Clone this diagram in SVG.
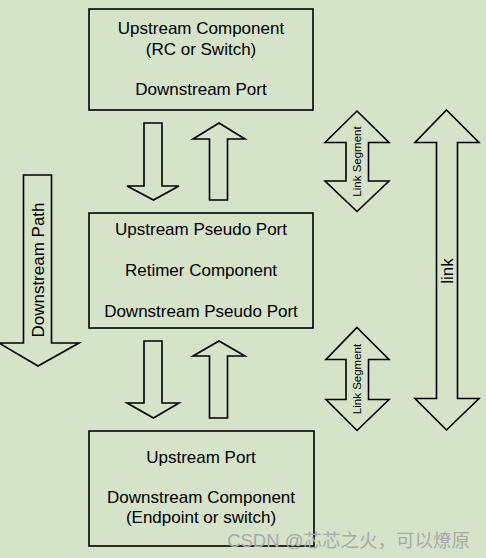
<svg xmlns="http://www.w3.org/2000/svg" width="486" height="558" viewBox="0 0 486 558">
<style>
.bg{fill:#d5e3c9}
.box{fill:#d5e3c9;stroke:#000;stroke-width:1.6}
.arr{fill:#d5e3c9;stroke:#000;stroke-width:1.6;stroke-linejoin:miter}
.t{font-family:"Liberation Sans",Arial,sans-serif;font-size:17px;fill:#000;text-anchor:middle}
.s{font-family:"Liberation Sans",Arial,sans-serif;font-size:11.5px;fill:#000;text-anchor:middle}
.wm{font-family:"Liberation Sans","Noto Sans CJK SC",sans-serif;font-size:18.5px;fill:#a8aaa8;text-anchor:end}
</style>
<rect class="bg" x="0" y="0" width="486" height="558"/>
<g id="upstream-component">
<rect class="box" x="89" y="9" width="224" height="101"/>
<text class="t" x="201" y="34">Upstream Component</text>
<text class="t" x="201" y="55">(RC or Switch)</text>
<text class="t" x="201" y="95">Downstream Port</text>
</g>
<g id="retimer-component">
<rect class="box" x="89" y="213" width="224" height="115"/>
<text class="t" x="201" y="235">Upstream Pseudo Port</text>
<text class="t" x="201" y="276">Retimer Component</text>
<text class="t" x="201" y="317">Downstream Pseudo Port</text>
</g>
<g id="downstream-component">
<rect class="box" x="89" y="431" width="225" height="115"/>
<text class="t" x="201" y="463">Upstream Port</text>
<text class="t" x="201" y="503">Downstream Component</text>
<text class="t" x="201" y="523">(Endpoint or switch)</text>
</g>
<g id="connectors">
<path class="arr" d="M144,123 H162 V186 H179 L153.5,200 L127,186 H144 Z"/>
<path class="arr" d="M209.5,200 H227.5 V139 H245 L219,123 L193,139 H209.5 Z"/>
<path class="arr" d="M144,341 H162 V403 H179 L153.5,418 L127,403 H144 Z"/>
<path class="arr" d="M209.5,418 H227.5 V356 H245 L219,341 L193,356 H209.5 Z"/>
<g id="downstream-path">
<path class="arr" d="M23.5,175 H51.5 V343 H79 L38,366 L-1,343 H23.5 Z"/>
<text class="t" transform="translate(44,270) rotate(-90)">Downstream Path</text>
</g>
<g id="link-segment-1">
<path class="arr" d="M357,111 L389,142.5 H368.5 V181 H389 L357,211.5 L325,181 H346 V142.5 H325 Z"/>
<text class="s" transform="translate(361,161.5) rotate(-90)">Link Segment</text>
</g>
<g id="link-segment-2">
<path class="arr" d="M357,327.5 L389,359.5 H368.5 V399.5 H389 L357,430.5 L326,399.5 H346 V359.5 H326 Z"/>
<text class="s" transform="translate(361,379) rotate(-90)">Link Segment</text>
</g>
<g id="link">
<path class="arr" d="M446.5,110 L479,142.5 H457.5 V398.5 H479 L446.5,430 L415,398.5 H436.5 V142.5 H415 Z"/>
<text class="t" transform="translate(453,271) rotate(-90)">link</text>
</g>
</g>
<text class="wm" x="470" y="547">CSDN @芯芯之火，可以燎原</text>
</svg>
